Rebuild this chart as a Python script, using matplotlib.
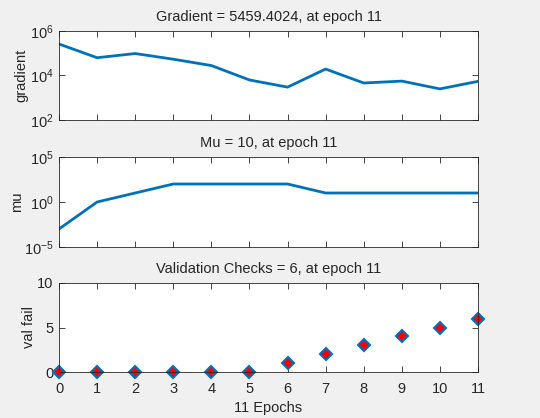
import numpy as np
import matplotlib
matplotlib.use('Agg')
import matplotlib.pyplot as plt

plt.rcParams['font.family'] = ['Liberation Sans', 'DejaVu Sans']
plt.rcParams['axes.unicode_minus'] = False

epochs = [0, 1, 2, 3, 4, 5, 6, 7, 8, 9, 10, 11]
gradient = [2.6e5, 6.3e4, 9.7e4, 5.4e4, 2.8e4, 6.3e3, 3.0e3, 1.95e4, 4.6e3, 5.6e3, 2.5e3, 5459.4024]
mu = [1e-3, 1, 10, 100, 100, 100, 100, 10, 10, 10, 10, 10]
val_fail = [0, 0, 0, 0, 0, 0, 1, 2, 3, 4, 5, 6]

blue = '#0072BD'
dark = '#262626'
fs = 10.5

fig = plt.figure(figsize=(5.4, 4.18), dpi=100, facecolor='#F0F0F0')

W, H = 540.0, 418.0
def add_ax(top, bottom):
    return fig.add_axes([59 / W, 1 - bottom / H, (478 - 59) / W, (bottom - top) / H])

ax1 = add_ax(31, 120)
ax2 = add_ax(157, 247)
ax3 = add_ax(283, 372)

for ax in (ax1, ax2, ax3):
    ax.set_xlim(0, 11)
    ax.set_xticks(epochs)
    ax.tick_params(direction='in', top=True, right=True, length=4, width=0.6,
                   colors=dark, labelsize=fs, pad=4)
    ax.tick_params(axis='x', pad=7)
    for s in ax.spines.values():
        s.set_color(dark)
        s.set_linewidth(0.6)

# gradient
ax1.semilogy(epochs, gradient, color=blue, linewidth=2)
ax1.set_ylim(1e2, 1e6)
ax1.set_yticks([1e2, 1e4, 1e6])
ax1.minorticks_off()
ax1.set_xticklabels([])
ax1.set_ylabel('gradient', fontsize=fs, color=dark, labelpad=1)
ax1.set_title('Gradient = 5459.4024, at epoch 11', fontsize=fs, color=dark, pad=7)

# mu
ax2.semilogy(epochs, mu, color=blue, linewidth=2)
ax2.set_ylim(1e-5, 1e5)
ax2.set_yticks([1e-5, 1e0, 1e5])
ax2.minorticks_off()
ax2.set_xticklabels([])
ax2.set_ylabel('mu', fontsize=fs, color=dark, labelpad=0)
ax2.set_title('Mu = 10, at epoch 11', fontsize=fs, color=dark, pad=7)

# validation checks
ax3.plot(epochs, val_fail, linestyle='none', marker='D', markersize=6.5,
         markerfacecolor='red', markeredgecolor=blue, markeredgewidth=1.5, clip_on=False)
ax3.set_ylim(0, 10)
ax3.set_yticks([0, 5, 10])
ax3.set_ylabel('val fail', fontsize=fs, color=dark, labelpad=1)
ax3.set_xlabel('11 Epochs', fontsize=fs, color=dark, labelpad=4)
ax3.set_title('Validation Checks = 6, at epoch 11', fontsize=fs, color=dark, pad=7)

fig.savefig('out.png', dpi=100, facecolor=fig.get_facecolor())
